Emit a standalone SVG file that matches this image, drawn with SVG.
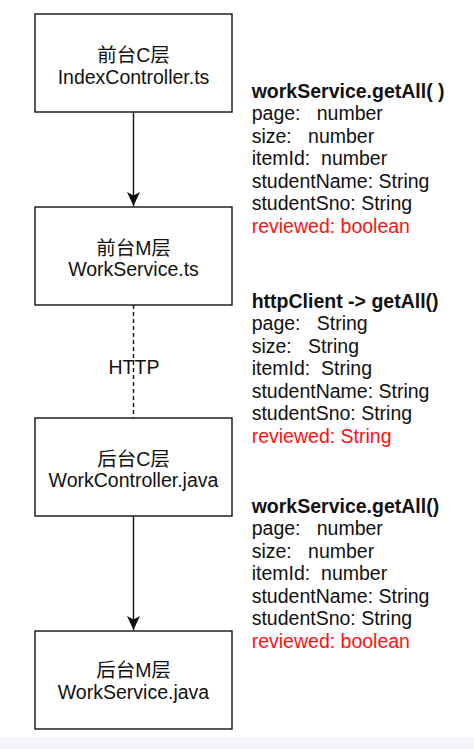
<svg xmlns="http://www.w3.org/2000/svg" width="474" height="749" viewBox="0 0 474 749">
<style>
text{font-family:"Liberation Sans","Noto Sans CJK SC",Arial,sans-serif;font-size:19.5px;fill:#111;white-space:pre}
.c{text-anchor:middle}
.b{font-weight:bold}
.r{fill:#ff1111}
.box{fill:#fff;stroke:#111;stroke-width:1.4}
.edge{stroke:#111;stroke-width:1.4;fill:none}
</style>
<defs>
<marker id="arr" markerUnits="userSpaceOnUse" markerWidth="16" markerHeight="16" refX="14" refY="8" orient="auto">
<path d="M0,1.5 L14,8 L0,14.5 L3.5,8 Z" fill="#111"/>
</marker>
</defs>
<rect x="0" y="0" width="474" height="749" fill="#fff"/>
<rect x="0" y="737" width="474" height="12" fill="#f4f5f8"/>
<g id="connectors">
<line class="edge" x1="133.5" y1="112" x2="133.5" y2="206" marker-end="url(#arr)"/>
<line class="edge" x1="133.5" y1="305" x2="133.5" y2="418" stroke-dasharray="4 3"/>
<text class="c" x="134" y="374">HTTP</text>
<line class="edge" x1="133.5" y1="516" x2="133.5" y2="630" marker-end="url(#arr)"/>
</g>
<g id="node-front-c">
<rect class="box" x="35" y="14" width="197" height="98"/>
<text class="c" x="133.5" y="61.5">前台C层</text>
<text class="c" x="133.5" y="83.5">IndexController.ts</text>
</g>
<g id="node-front-m">
<rect class="box" x="35" y="207" width="197" height="98"/>
<text class="c" x="133.5" y="255">前台M层</text>
<text class="c" x="133.5" y="276">WorkService.ts</text>
</g>
<g id="node-back-c">
<rect class="box" x="35" y="418" width="197" height="98"/>
<text class="c" x="133.5" y="466">后台C层</text>
<text class="c" x="133.5" y="486.5">WorkController.java</text>
</g>
<g id="node-back-m">
<rect class="box" x="35" y="631" width="197" height="98"/>
<text class="c" x="133.5" y="677">后台M层</text>
<text class="c" x="133.5" y="698.5">WorkService.java</text>
</g>
<g id="note-1">
<text class="b" x="251.7" y="97.7">workService.getAll( )</text>
<text x="251.7" y="120.2">page:   number</text>
<text x="251.7" y="142.7">size:   number</text>
<text x="251.7" y="165.2">itemId:  number</text>
<text x="251.7" y="187.7">studentName: String</text>
<text x="251.7" y="210.2">studentSno: String</text>
<text class="r" x="251.7" y="232.7">reviewed: boolean</text>
</g>
<g id="note-2">
<text class="b" x="251.7" y="307.7">httpClient -&gt; getAll()</text>
<text x="251.7" y="330.2">page:   String</text>
<text x="251.7" y="352.7">size:   String</text>
<text x="251.7" y="375.2">itemId:  String</text>
<text x="251.7" y="397.7">studentName: String</text>
<text x="251.7" y="420.2">studentSno: String</text>
<text class="r" x="251.7" y="442.7">reviewed: String</text>
</g>
<g id="note-3">
<text class="b" x="251.7" y="512.7">workService.getAll()</text>
<text x="251.7" y="535.2">page:   number</text>
<text x="251.7" y="557.7">size:   number</text>
<text x="251.7" y="580.2">itemId:  number</text>
<text x="251.7" y="602.7">studentName: String</text>
<text x="251.7" y="625.2">studentSno: String</text>
<text class="r" x="251.7" y="647.7">reviewed: boolean</text>
</g>
</svg>
